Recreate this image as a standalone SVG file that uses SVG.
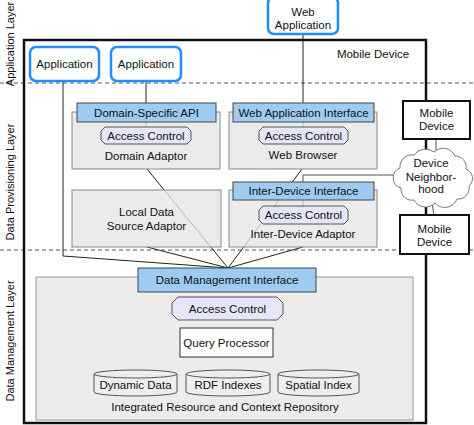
<svg xmlns="http://www.w3.org/2000/svg" width="474" height="425" viewBox="0 0 474 425">
<style>
text{font-family:"Liberation Sans",Arial,sans-serif;font-size:11.5px;fill:#111;text-anchor:middle}
.lay{font-size:11px}
.dash{stroke:#555;stroke-width:1;stroke-dasharray:4 3;fill:none}
.app{fill:#fff;stroke:#1e8fff;stroke-width:2.5}
.bar{fill:#9dcbf2;stroke:#444;stroke-width:1}
.box{fill:#e6e6e6;fill-opacity:0.78;stroke:#888;stroke-width:1}
.ac{fill:#e6e6fa;stroke:#555;stroke-width:1;stroke-linejoin:round}
.dev{fill:#fff;stroke:#111;stroke-width:2}
.cyl{fill:#eeeeee;stroke:#555;stroke-width:1}
.ln{stroke:#222;stroke-width:1;fill:none}
.lg{stroke:#555;stroke-width:1;fill:none}
</style>
<rect width="474" height="425" fill="#fff"/>
<g id="layers">
<line class="dash" x1="0" y1="83" x2="474" y2="83"/>
<line class="dash" x1="0" y1="250" x2="474" y2="250"/>
<text class="lay" transform="translate(13.5,44) rotate(-90)">Application Layer</text>
<text class="lay" transform="translate(13.5,182) rotate(-90)">Data Provisioning Layer</text>
<text class="lay" transform="translate(13.5,341) rotate(-90)">Data Management Layer</text>
</g>
<g id="mobile-device">
<rect x="24" y="40" width="402" height="383" fill="none" stroke="#111" stroke-width="2.5"/>
<text x="373" y="58">Mobile Device</text>
</g>
<g id="connectors">
<polyline class="ln" points="63,81 63,256 228,268"/>
<line class="ln" x1="146" y1="81" x2="146" y2="127"/>
<line class="ln" x1="303" y1="34" x2="303" y2="127"/>
<line class="ln" x1="147" y1="169" x2="228" y2="268"/>
<line class="ln" x1="147" y1="247" x2="228" y2="268"/>
<line class="ln" x1="302" y1="169" x2="228" y2="268"/>
<line class="ln" x1="303" y1="247" x2="228" y2="268"/>
<polyline class="lg" points="394,175 303,175 303,182"/>
<line class="ln" x1="303" y1="200" x2="303" y2="206"/>
<line class="lg" x1="436" y1="139" x2="436" y2="153"/>
<line class="lg" x1="432" y1="203" x2="434" y2="215"/>
<line class="ln" x1="227" y1="292" x2="227" y2="297"/>
<line class="ln" x1="227" y1="320" x2="227" y2="328"/>
<line class="lg" x1="227" y1="357" x2="134" y2="371"/>
<line class="lg" x1="227" y1="357" x2="227" y2="370"/>
<line class="lg" x1="227" y1="357" x2="319" y2="370"/>
</g>
<g id="app1"><rect class="app" x="30" y="47" width="69" height="34" rx="6"/><text x="64.5" y="68">Application</text></g>
<g id="app2"><rect class="app" x="111" y="47" width="70" height="34" rx="6"/><text x="146" y="68">Application</text></g>
<g id="webapp"><rect class="app" x="268" y="-3" width="70" height="37" rx="6"/><text x="303" y="16">Web</text><text x="303" y="28.5">Application</text></g>
<g id="domain-adaptor">
<rect class="box" x="72" y="112" width="148" height="57"/>
<rect class="bar" x="77" y="103" width="139" height="19"/>
<text x="146.5" y="116.5">Domain-Specific API</text>
<polygon class="ac" points="105,127 187,127 191,131 191,140 187,144 105,144 101,140 101,131"/>
<text x="146" y="139.5">Access Control</text>
<text x="146" y="160">Domain Adaptor</text>
</g>
<g id="web-browser">
<rect class="box" x="229" y="112" width="148" height="57"/>
<rect class="bar" x="233" y="103" width="141" height="19"/>
<text x="303.5" y="116.5">Web Application Interface</text>
<polygon class="ac" points="263,127 344,127 348,131 348,140 344,144 263,144 259,140 259,131"/>
<text x="303.5" y="139.5">Access Control</text>
<text x="303" y="159">Web Browser</text>
</g>
<g id="local-data">
<rect class="box" x="72" y="190" width="149" height="57"/>
<text x="146.5" y="216">Local Data</text>
<text x="146.5" y="230">Source Adaptor</text>
</g>
<g id="inter-device">
<rect class="box" x="229" y="190" width="148" height="57"/>
<rect class="bar" x="233" y="182" width="141" height="18"/>
<text x="303.5" y="195">Inter-Device Interface</text>
<polygon class="ac" points="263,206 344,206 348,210 348,220 344,224 263,224 259,220 259,210"/>
<text x="303.5" y="219">Access Control</text>
<text x="303" y="238">Inter-Device Adaptor</text>
</g>
<g id="mobile-device-1"><rect class="dev" x="403" y="101" width="67" height="38"/><text x="436.5" y="117">Mobile</text><text x="436.5" y="130">Device</text></g>
<g id="neighborhood">
<path d="M400,168 A12,12 0 0 1 414,155 A14,14 0 0 1 434,152 A13,13 0 0 1 455,156 A11,11 0 0 1 466,169 A10,10 0 0 1 469,186 A11,11 0 0 1 457,199 A13,13 0 0 1 435,203 A13,13 0 0 1 414,200 A11,11 0 0 1 401,188 A10.5,10.5 0 0 1 400,168 Z" fill="#fff" stroke="#777" stroke-width="1"/>
<text x="431" y="167">Device</text><text x="431" y="181">Neighbor-</text><text x="431" y="193">hood</text>
</g>
<g id="mobile-device-2"><rect class="dev" x="400" y="215" width="69" height="39"/><text x="434.5" y="233">Mobile</text><text x="434.5" y="245.5">Device</text></g>
<g id="repository">
<rect x="36" y="277" width="377" height="143" fill="#ececec" stroke="#999" stroke-width="1"/>
<rect class="bar" x="138" y="268" width="178" height="24"/>
<text x="227" y="284">Data Management Interface</text>
<polygon class="ac" points="178,297 277,297 283,303 283,314 277,320 178,320 172,314 172,303"/>
<text x="227.5" y="312.5">Access Control</text>
<g id="query-processor"><rect x="180" y="328" width="93" height="29" fill="#fff" stroke="#333" stroke-width="1"/><text x="226.5" y="347">Query Processor</text></g>
<g id="dynamic-data"><path class="cyl" d="M94,374 A41.5,4 0 0 1 177,374 V392 A41.5,4 0 0 1 94,392 Z M94,374 A41.5,4 0 0 0 177,374"/><text x="135.5" y="389">Dynamic Data</text></g>
<g id="rdf-indexes"><path class="cyl" d="M186,374 A42,4 0 0 1 270,374 V392 A42,4 0 0 1 186,392 Z M186,374 A42,4 0 0 0 270,374"/><text x="228" y="389">RDF Indexes</text></g>
<g id="spatial-index"><path class="cyl" d="M278,374 A40.5,4 0 0 1 359,374 V392 A40.5,4 0 0 1 278,392 Z M278,374 A40.5,4 0 0 0 359,374"/><text x="318.5" y="389">Spatial Index</text></g>
<text x="225" y="411">Integrated Resource and Context Repository</text>
</g>
</svg>
